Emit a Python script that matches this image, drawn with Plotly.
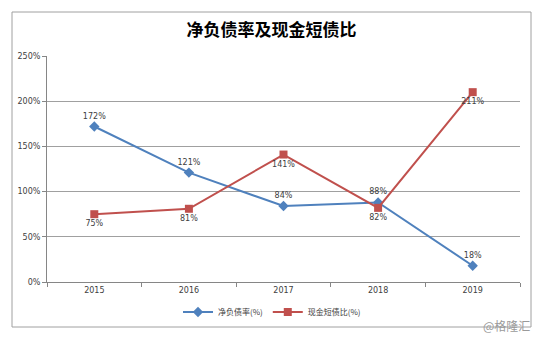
import plotly.graph_objects as go

years = ["2015", "2016", "2017", "2018", "2019"]
net_debt_ratio = [172, 121, 84, 88, 18]
cash_short_debt = [75, 81, 141, 82, 210]
cash_labels = ["75%", "81%", "141%", "82%", "211%"]
net_labels = ["172%", "121%", "84%", "88%", "18%"]
y_ticks = [0, 50, 100, 150, 200, 250]
y_tick_text = ["0%", "50%", "100%", "150%", "200%", "250%"]

W, H = 543, 340
L, R, T, B = 47, 23, 56, 58
pw, ph = W - L - R, H - T - B

def px(x):
    return (x - L) / pw

def py(y):
    return (H - B - y) / ph

fig = go.Figure()
fig.add_trace(go.Scatter(
    x=years, y=net_debt_ratio, name="净负债率(%)",
    mode="lines+markers+text", text=net_labels, textposition="top center",
    textfont=dict(size=8, color="#404040"),
    line=dict(color="#4F81BD", width=2),
    marker=dict(symbol="diamond", size=8, color="#4F81BD"),
))
fig.add_trace(go.Scatter(
    x=years, y=cash_short_debt, name="现金短债比(%)",
    mode="lines+markers+text", text=cash_labels, textposition="bottom center",
    textfont=dict(size=8, color="#404040"),
    line=dict(color="#C0504D", width=2),
    marker=dict(symbol="square", size=8, color="#C0504D"),
))

fig.update_layout(
    width=W, height=H,
    margin=dict(l=L, r=R, t=T, b=B),
    paper_bgcolor="white", plot_bgcolor="white",
    font=dict(family="DejaVu Sans, Noto Sans CJK SC", size=8, color="#404040"),
    title=dict(text="<b>净负债率及现金短债比</b>", x=0.5, xanchor="center",
               y=1 - 30 / H, yanchor="middle",
               font=dict(family="Noto Sans CJK SC", size=17, color="#000000")),
    showlegend=True,
    legend=dict(orientation="h", x=px(272), xanchor="center", y=py(312), yanchor="middle",
                font=dict(family="Noto Sans CJK SC, DejaVu Sans", size=8, color="#404040"),
                bgcolor="rgba(0,0,0,0)", itemwidth=30, tracegroupgap=0),
    xaxis=dict(type="category", showgrid=False, showline=True, linecolor="#868686",
               ticks="outside", tickson="boundaries", ticklen=4, tickcolor="#868686",
               tickfont=dict(size=8, color="#404040"), range=[-0.5, 4.5]),
    yaxis=dict(range=[0, 250], tickvals=y_ticks, ticktext=y_tick_text,
               showgrid=True, gridcolor="#A0A0A0", gridwidth=1,
               showline=True, linecolor="#868686", ticks="outside", ticklen=4,
               tickcolor="#868686", tickfont=dict(size=8, color="#404040"),
               zeroline=False),
    shapes=[dict(type="rect", xref="paper", yref="paper",
                 x0=px(12), x1=px(531), y0=py(327), y1=py(12),
                 line=dict(color="#A0A0A0", width=1), layer="below")],
    annotations=[dict(text="@格隆汇", xref="paper", yref="paper",
                      x=px(532), y=py(325), xanchor="right", yanchor="middle",
                      showarrow=False,
                      font=dict(family="Noto Sans CJK SC", size=12, color="#9A9A9A"))],
)

fig.write_html("out.html")
